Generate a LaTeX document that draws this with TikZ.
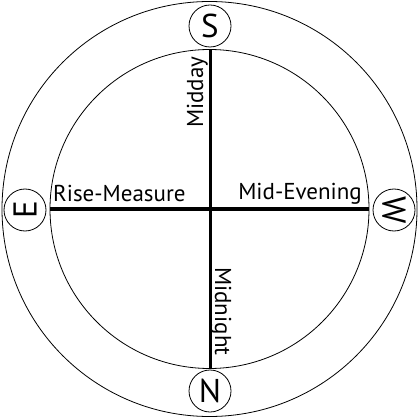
\documentclass[tikz,border=0pt]{standalone}
\usepackage{fontspec}
\setmainfont{PT Sans}
\begin{document}
\begin{tikzpicture}[x=1pt,y=-1pt,
  ring/.style={draw=black,line width=0.8pt},
  axis/.style={draw=black,line width=3pt},
  dirbox/.style={circle,draw=black,line width=0.8pt,minimum size=42pt,inner sep=0pt,font=\fontsize{33}{33}\selectfont},
  lbl/.style={inner sep=0pt,font=\fontsize{23}{23}\selectfont}]
\useasboundingbox (0,0) rectangle (419,419);
\coordinate (C) at (209.5,209);
\draw[ring] (C) circle[radius=207.5];
\draw[ring] (C) circle[radius=159.5];
\coordinate (T) at (210,49.5);
\coordinate (B) at (210,368.5);
\coordinate (L) at (50,209);
\coordinate (R) at (369,209);
\draw[axis] (T) -- (B);
\draw[axis] (L) -- (R);
\node[dirbox] (S) at (210,26) {S};
\node[dirbox] (N) at (210,391) {N};
\node[dirbox,rotate=90] (E) at (25,210) {E};
\node[dirbox,rotate=-90] (W) at (394,210) {W};
\node[lbl,anchor=base west] (rise) at (53,202) {Rise-Measure};
\node[lbl,anchor=base east] (eve) at (362,200) {Mid-Evening};
\node[lbl,rotate=90,anchor=base west] (day) at (203,128) {Midday};
\node[lbl,rotate=-90,anchor=base west] (night) at (215,267) {Midnight};
\end{tikzpicture}
\end{document}
